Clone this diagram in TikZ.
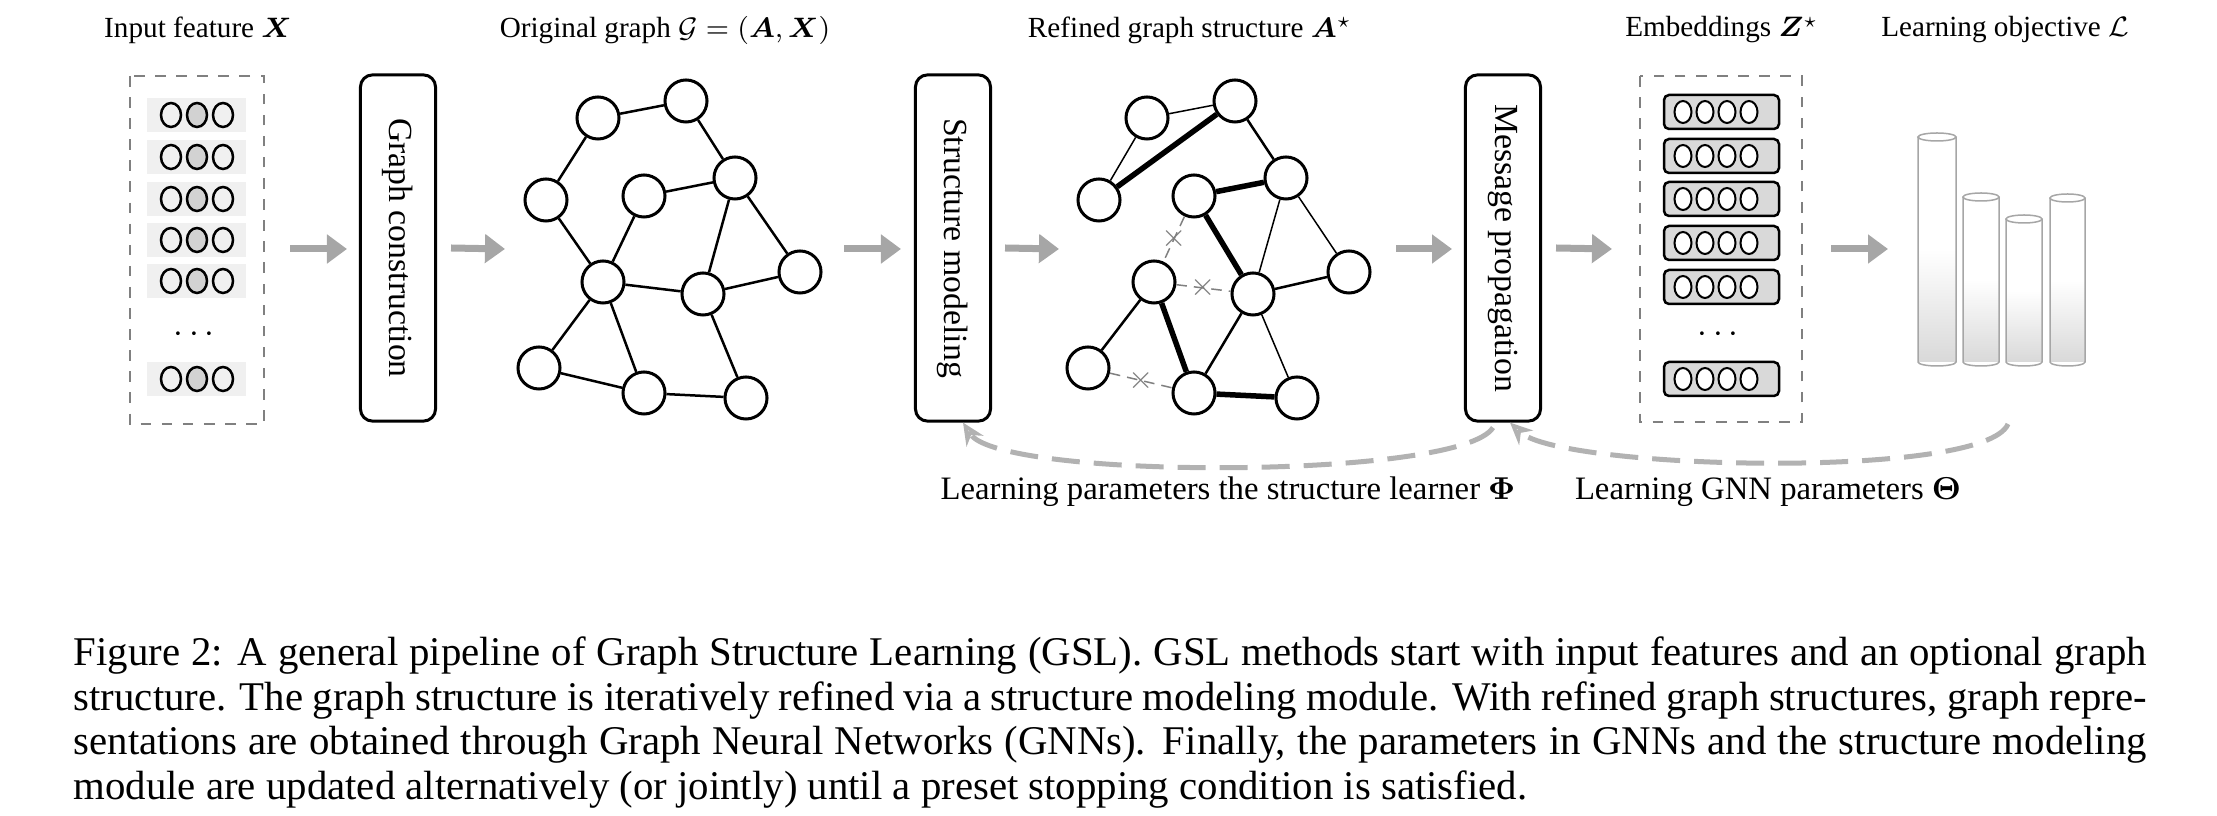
\documentclass[tikz,border=0pt]{standalone}
\usepackage{fontspec}
\setmainfont{Liberation Serif}
\usepackage{amsmath,amssymb,bm}
\usetikzlibrary{arrows.meta}

\tikzset{
	vert/.style={draw, circle, minimum size=0.42cm, inner sep=0pt, line width=.3mm, fill=white},
	stage/.style={draw, rounded corners=0.12cm, minimum width=3.46cm, minimum height=0.75cm, line width=.3mm, rotate=-90, font=\fontsize{9.6}{12}\selectfont},
	bigarrow/.style={-{Triangle[length=0.2cm,width=0.28cm]}, gray!70, line width=0.07cm},
	feedback/.style={-{Stealth[length=0.22cm,width=0.2cm,open]}, gray!60, line width=0.05cm, dash pattern=on 0.28cm off 0.14cm},
	title/.style={font=\fontsize{8.3}{10}\selectfont},
	label/.style={font=\fontsize{9.3}{11}\selectfont},
	edge/.style={line width=.25mm},
	thin edge/.style={line width=.15mm},
	thick edge/.style={line width=.55mm},
	cut edge/.style={gray, densely dashed, line width=.15mm},
}

\begin{document}
\begin{tikzpicture}[x=0.01cm, y=-0.01cm]
	\useasboundingbox (0,0) rectangle (2217,816);

	% Titles
	\node[title] at (198,30) {Input feature $\bm{X}$};
	\node[title] at (665,30) {Original graph $\mathcal{G}=(\bm{A},\bm{X})$};
	\node[title] at (1190,30) {Refined graph structure $\bm{A}^{\star}$};
	\node[title] at (1722,30) {Embeddings $\bm{Z}^{\star}$};
	\node[title] at (2005,30) {Learning objective $\mathcal{L}$};

	% Input features
	\draw[gray, dashed, line width=.2mm] (130,76) rectangle (264,424);
	\foreach \y in {115,157,199,240,281,379}{
		\fill[gray!12] (147,\y-17) rectangle (246,\y+17);
		\draw[line width=.25mm] (171,\y) ellipse (0.1cm and 0.12cm);
		\draw[line width=.25mm, fill=gray!35] (197,\y) ellipse (0.1cm and 0.12cm);
		\draw[line width=.25mm] (223,\y) ellipse (0.1cm and 0.12cm);
	}
	\node at (197,335) {$\cdots$};

	% Stages
	\node[stage] (gc) at (398,248) {Graph construction};
	\node[stage] (sm) at (953,248) {Structure modeling};
	\node[stage] (mp) at (1503,248) {Message propagation};

	% Original graph
	\node[vert] (o1) at (598,118) {};
	\node[vert] (o2) at (686,101) {};
	\node[vert] (o3) at (546,200) {};
	\node[vert] (o4) at (644,196) {};
	\node[vert] (o5) at (735,178) {};
	\node[vert] (o6) at (800,272) {};
	\node[vert] (o7) at (603,282) {};
	\node[vert] (o8) at (703,294) {};
	\node[vert] (o9) at (539,368) {};
	\node[vert] (o10) at (644,393) {};
	\node[vert] (o11) at (746,398) {};
	\foreach \a/\b in {o1/o2,o1/o3,o2/o5,o4/o5,o3/o7,o4/o7,o5/o8,o5/o6,o6/o8,o7/o8,o7/o9,o7/o10,o9/o10,o8/o11,o10/o11}
		\draw[edge] (\a) -- (\b);

	% Refined graph
	\node[vert] (r1) at (1147,118) {};
	\node[vert] (r2) at (1235,101) {};
	\node[vert] (r3) at (1099,200) {};
	\node[vert] (r4) at (1194,196) {};
	\node[vert] (r5) at (1286,178) {};
	\node[vert] (r6) at (1349,272) {};
	\node[vert] (r7) at (1154,282) {};
	\node[vert] (r8) at (1253,294) {};
	\node[vert] (r9) at (1088,368) {};
	\node[vert] (r10) at (1194,393) {};
	\node[vert] (r11) at (1297,398) {};
	\foreach \a/\b in {r1/r2,r3/r1,r5/r8,r5/r6,r8/r11}
		\draw[thin edge] (\a) -- (\b);
	\foreach \a/\b in {r2/r5,r6/r8,r7/r9,r8/r10}
		\draw[edge] (\a) -- (\b);
	\foreach \a/\b in {r3/r2,r4/r5,r4/r8,r7/r10,r10/r11}
		\draw[thick edge] (\a) -- (\b);
	\foreach \a/\b in {r4/r7,r7/r8,r9/r10}
		\draw[cut edge] (\a) -- node[text=gray, font=\small, inner sep=0pt] {$\times$} (\b);

	% Embeddings
	\draw[gray, dashed, line width=.2mm] (1640,76) rectangle (1802,422);
	\foreach \y in {112,156,199,243,287,379}{
		\draw[fill=gray!30, rounded corners=0.05cm, line width=.25mm] (1664,\y-17) rectangle (1779,\y+17);
		\foreach \x in {1683,1705,1727,1749}
			\draw[fill=white, line width=.2mm] (\x,\y) ellipse (0.085cm and 0.11cm);
	}
	\node at (1721,335) {$\cdots$};

	% Objective bars
	\foreach \xa/\xb/\t in {1918/1956/137,1963/1999/197,2006/2042/219,2050/2085/198}{
		\shade[top color=white, bottom color=gray!30, middle color=white] (\xa,\t) rectangle (\xb,362);
		\draw[gray!70, line width=.15mm] (\xa,\t) -- (\xa,362) arc[start angle=180, end angle=360, x radius=(\xb-\xa)/2*0.01cm, y radius=0.04cm] -- (\xb,\t);
		\draw[gray!70, fill=white, line width=.15mm] ({(\xa+\xb)/2},\t) ellipse ({(\xb-\xa)/2*0.01cm} and 0.04cm);
	}

	% Forward arrows
	\coordinate (fx) at (290,249);
	\coordinate (la) at (1831,249);
	\coordinate (lb) at (1888,249);
	\draw[bigarrow] (fx) -- (347,249);
	\draw[bigarrow] ([xshift=0.14cm]gc.north) -- (505,249);
	\draw[bigarrow] (844,249) -- (901,249);
	\draw[bigarrow] ([xshift=0.13cm]sm.north) -- (1059,249);
	\draw[bigarrow] (1396,249) -- (1452,249);
	\draw[bigarrow] ([xshift=0.14cm]mp.north) -- (1612,249);
	\draw[bigarrow] (la) -- (lb);

	% Feedback
	\coordinate (lo) at (2008,424);
	\draw[feedback] (lo) .. controls (1985,480) and (1560,470) .. ([xshift=0.07cm]mp.east);
	\draw[feedback] ([xshift=-0.1cm,yshift=-0.05cm]mp.east) .. controls (1460,480) and (1000,480) .. ([xshift=0.1cm]sm.east);
	\node[label] at (1228,492) {Learning parameters the structure learner $\bm{\Phi}$};
	\node[label] at (1768,492) {Learning GNN parameters $\bm{\Theta}$};

	% Caption
	\node[anchor=north west, text width=20.72cm, align=justify, inner sep=0pt, font=\fontsize{11.6}{12.7}\selectfont] (cap) at (73,636) {Figure 2: A general pipeline of Graph Structure Learning (GSL). GSL methods start with input features and an optional graph structure. The graph structure is iteratively refined via a structure modeling module. With refined graph structures, graph representations are obtained through Graph Neural Networks (GNNs). Finally, the parameters in GNNs and the structure modeling module are updated alternatively (or jointly) until a preset stopping condition is satisfied.};
\end{tikzpicture}
\end{document}
